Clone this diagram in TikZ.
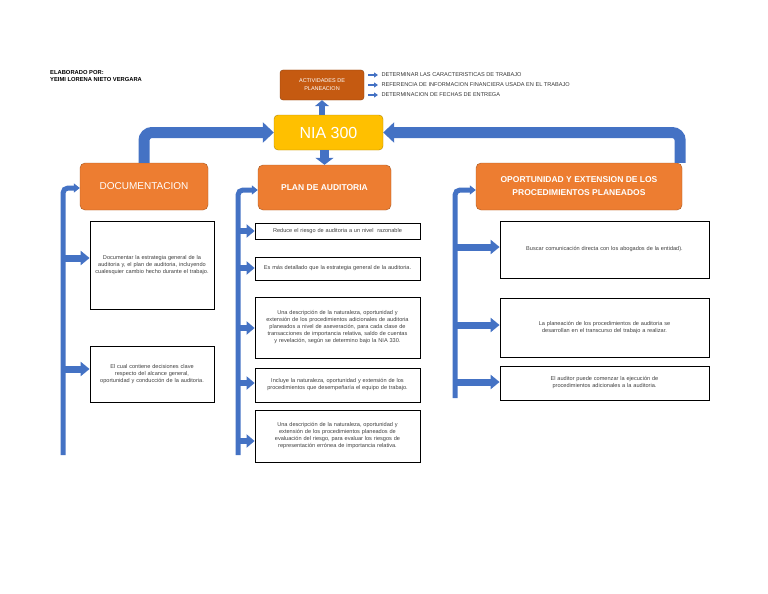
\documentclass[tikz,border=0pt]{standalone}
\usepackage{fontspec}
\setmainfont{Liberation Sans}
\usetikzlibrary{arrows.meta}
\definecolor{bl}{HTML}{4472C4}
\definecolor{orn}{HTML}{ED7D31}
\definecolor{dor}{HTML}{C55A11}
\definecolor{yel}{HTML}{FFC000}
\begin{document}
\begin{tikzpicture}[x=1pt,y=-1pt,
  head/.style={fill=orn, rounded corners=5pt, draw=orn!70!black, text=white, font=\fontsize{10}{12}\selectfont, align=center, inner sep=0pt},
  tb/.style={draw=black, line width=0.8pt, fill=white, align=center, font=\fontsize{5.6}{7}\selectfont, text=black!75, inner sep=2pt, execute at begin node={\hyphenpenalty=10000\relax}},
  big/.style={bl, line width=11pt, rounded corners=8pt, -{Triangle[width=20pt,length=11pt]}},
  bar/.style={bl, line width=5pt, rounded corners=5pt, -{Triangle[width=9pt,length=6pt]}},
  sm/.style={bl, line width=7pt, -{Triangle[width=14pt,length=9pt]}},
  bul/.style={bl, line width=2pt, -{Triangle[width=5pt,length=4pt]}},
  lt/.style={font=\fontsize{5.6}{7}\selectfont, anchor=west, text=black!80}]
\useasboundingbox (0,0) rectangle (768,594);
\node[font=\fontsize{5.8}{7}\selectfont\bfseries, anchor=north west, align=left, inner sep=0pt] (auth) at (50,70) {ELABORADO POR:\\YEIMI LORENA NIETO VERGARA};
% top
\node[draw=dor!70!black, fill=dor, rounded corners=3pt, text=white, minimum width=84pt, minimum height=30pt, align=center, font=\fontsize{5.5}{8}\selectfont] (act) at (322,85) {ACTIVIDADES DE\\PLANEACION};
\node[fill=yel, draw=yel!70!black, rounded corners=4pt, minimum width=109pt, minimum height=35pt, text=white, font=\fontsize{16}{18}\selectfont] (nia) at (328.5,132.5) {NIA 300};
\node[lt] (l1) at (378,75) {DETERMINAR LAS CARACTERISTICAS DE TRABAJO};
\node[lt] (l2) at (378,85) {REFERENCIA DE INFORMACION FINANCIERA USADA EN EL TRABAJO};
\node[lt] (l3) at (378,95) {DETERMINACION DE FECHAS DE ENTREGA};
\coordinate (b1) at (368,75); \coordinate (b2) at (368,85); \coordinate (b3) at (368,95);
\draw[bul] (b1) -- (l1.west); \draw[bul] (b2) -- (l2.west); \draw[bul] (b3) -- (l3.west);
\draw[bl, line width=6pt, -{Triangle[width=14pt,length=6pt]}] (nia.north -| act.south) -- (act.south);
% heads
\node[head, minimum width=128pt, minimum height=47pt] (doc) at (144,186.5) {DOCUMENTACION};
\node[head, minimum width=133pt, minimum height=45pt, font=\fontsize{8.5}{10}\selectfont\bfseries] (plan) at (324.5,187.5) {PLAN DE AUDITORIA};
\node[head, minimum width=206pt, minimum height=47pt, font=\fontsize{8.5}{13}\selectfont\bfseries] (op) at (579,186.5) {OPORTUNIDAD Y EXTENSION DE LOS\\PROCEDIMIENTOS PLANEADOS};
\draw[bl, line width=9pt, -{Triangle[width=18pt,length=7pt]}] (plan.north |- nia.south) -- (plan.north);
\draw[big] (doc.north) |- (nia.west);
\draw[big] (op.north east) ++(-2,0) coordinate (opc) |- (nia.east);
% bars
\coordinate (d0) at (63,455); \coordinate (p0) at (238,455); \coordinate (o0) at (455,398);
\draw[bar] (d0) |- (doc.west |- 0,188);
\draw[bar] (p0) |- (plan.west |- 0,190);
\draw[bar] (o0) |- (op.west |- 0,190);
% doc boxes
\node[tb, minimum width=124pt, minimum height=88pt, text width=118pt] (d1) at (152,265) {Documentar la estrategia general de la auditoria y, el plan de auditoria, incluyendo cualesquier cambio hecho durante el trabajo.\\[12pt]};
\node[tb, minimum width=124pt, minimum height=56pt, text width=110pt] (d2) at (152,374) {El cual contiene decisiones clave respecto del alcance general, oportunidad y conducción de la auditoria.\\[10pt]};
\draw[sm] (63,258) -- (d1.west |- 0,258);
\draw[sm] (63,369) -- (d2.west |- 0,369);
% plan boxes
\node[tb, minimum width=165pt, minimum height=16pt, text width=160pt] (p1) at (337.5,231) {Reduce el riesgo de auditoria a un nivel \ razonable};
\node[tb, minimum width=165pt, minimum height=23pt, text width=150pt] (p2) at (337.5,268.5) {Es más detallado que la estrategia general de la auditoria.};
\node[tb, minimum width=165pt, minimum height=61pt, text width=158pt] (p3) at (337.5,327.5) {Una descripción de la naturaleza, oportunidad y extensión de los procedimientos adicionales de auditoria planeados a nivel de aseveración, para cada clase de transacciones de importancia relativa, saldo de cuentas y revelación, según se determino bajo la NIA 330.};
\node[tb, minimum width=165pt, minimum height=34pt, text width=160pt] (p4) at (337.5,385) {Incluye la naturaleza, oportunidad y extensión de los procedimientos que desempeñaría el equipo de trabajo.};
\node[tb, minimum width=165pt, minimum height=52pt, text width=155pt] (p5) at (337.5,436) {Una descripción de la naturaleza, oportunidad y extensión de los procedimientos planeados de evaluación del riesgo, para evaluar los riesgos de representación errónea de importancia relativa.};
\foreach \b/\y in {p1/231,p2/268,p3/328,p4/383,p5/441}
  \draw[sm, line width=6pt, -{Triangle[width=13pt,length=8pt]}] (238,\y) -- (\b.west |- 0,\y);
% op boxes
\node[tb, minimum width=209pt, minimum height=57pt, text width=204pt] (o1) at (604.5,249.5) {Buscar comunicación directa con los abogados de la entidad).};
\node[tb, minimum width=209pt, minimum height=59pt, text width=204pt] (o2) at (604.5,327.5) {La planeación de los procedimientos de auditoria se desarrollan en el transcurso del trabajo a realizar.};
\node[tb, minimum width=209pt, minimum height=34pt, text width=180pt] (o3) at (604.5,383) {El auditor puede comenzar la ejecución de procedimientos adicionales a la auditoria.};
\foreach \b/\y in {o1/247,o2/325,o3/382}
  \draw[sm] (455,\y) -- (\b.west |- 0,\y);
\end{tikzpicture}
\end{document}
